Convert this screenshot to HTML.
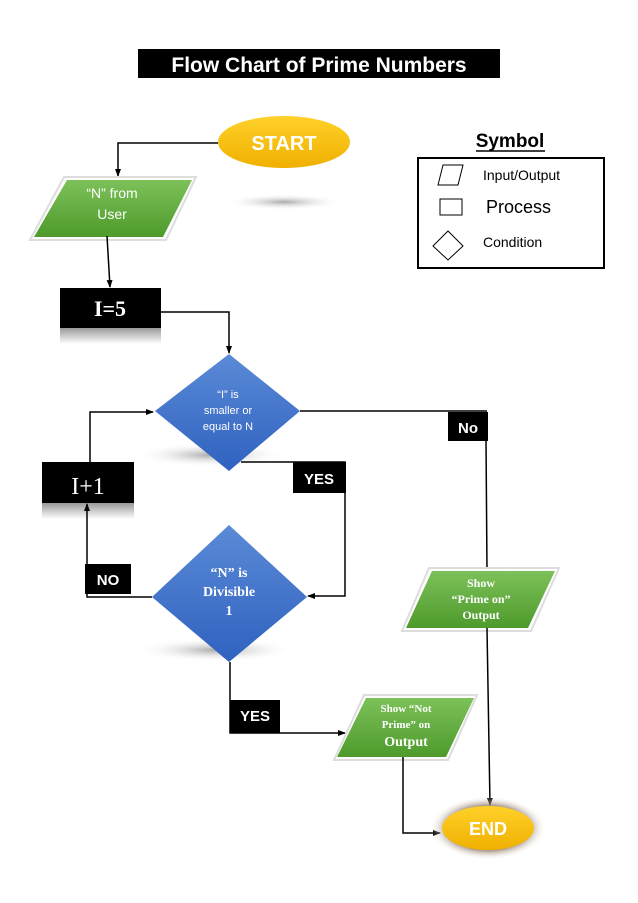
<!DOCTYPE html>
<html><head><meta charset="utf-8"><style>
html,body{margin:0;padding:0;background:#fff;}
svg{display:block;}
.s{font-family:"Liberation Sans",sans-serif;}
.r{font-family:"Liberation Serif",serif;}
</style></head><body>
<svg width="638" height="903" viewBox="0 0 638 903" xmlns="http://www.w3.org/2000/svg">
<defs>
<marker id="a" markerWidth="8" markerHeight="8" refX="7" refY="4" orient="auto" markerUnits="userSpaceOnUse"><path d="M0,1 L8,4 L0,7 Z" fill="#000"/></marker>
<linearGradient id="g" x1="0" y1="0" x2="0" y2="1"><stop offset="0" stop-color="#7cc159"/><stop offset="1" stop-color="#4e9a2c"/></linearGradient>
<linearGradient id="b" x1="0" y1="0" x2="0" y2="1"><stop offset="0" stop-color="#5b8ad6"/><stop offset="1" stop-color="#2f62c0"/></linearGradient>
<linearGradient id="y" x1="0" y1="0" x2="0" y2="1"><stop offset="0" stop-color="#ffd12a"/><stop offset="1" stop-color="#f0b000"/></linearGradient>
<linearGradient id="sh" x1="0" y1="0" x2="0" y2="1"><stop offset="0" stop-color="#999"/><stop offset="1" stop-color="#fff"/></linearGradient>
<radialGradient id="gl"><stop offset="0.6" stop-color="#6b4a2a"/><stop offset="1" stop-color="#fff" stop-opacity="0"/></radialGradient>
<radialGradient id="ds"><stop offset="0" stop-color="#aaa"/><stop offset="1" stop-color="#fff" stop-opacity="0"/></radialGradient>
</defs>

<!-- Title -->
<rect x="138" y="49" width="362" height="29" fill="#000"/>
<text x="319" y="72" text-anchor="middle" class="s" font-size="21" font-weight="bold" fill="#fff">Flow Chart of Prime Numbers</text>

<!-- START -->
<ellipse cx="284" cy="202" rx="60" ry="8" fill="url(#ds)"/>
<ellipse cx="284" cy="142" rx="66" ry="26" fill="url(#y)"/>
<text x="284" y="150" text-anchor="middle" class="s" font-size="20" font-weight="bold" fill="#fff">START</text>
<polyline points="218,143 118,143 118,176" fill="none" stroke="#000" stroke-width="1.5" marker-end="url(#a)"/>

<!-- N from User -->
<polygon points="64,177 196,177 166,240 30,240" fill="#fff" stroke="#ddd" stroke-width="2"/>
<polygon points="67,180 192,180 163,237 34,237" fill="url(#g)"/>
<text x="112" y="198" text-anchor="middle" class="s" font-size="14" fill="#fff">“N” from</text>
<text x="112" y="219" text-anchor="middle" class="s" font-size="14" fill="#fff">User</text>
<line x1="107" y1="236" x2="110" y2="287" stroke="#000" stroke-width="1.5" marker-end="url(#a)"/>

<!-- I=5 -->
<rect x="60" y="328" width="101" height="16" fill="url(#sh)"/>
<rect x="60" y="288" width="101" height="40" fill="#000"/>
<text x="110" y="316" text-anchor="middle" class="r" font-size="22" font-weight="bold" fill="#fff">I=5</text>
<polyline points="161,312 229,312 229,353" fill="none" stroke="#000" stroke-width="1.5" marker-end="url(#a)"/>

<!-- Diamond 1 -->
<ellipse cx="210" cy="455" rx="75" ry="12" fill="url(#ds)"/>
<polygon points="229,354 300,411 229,471 155,411" fill="url(#b)"/>
<text x="228" y="398" text-anchor="middle" class="s" font-size="11" fill="#fff">“I” is</text>
<text x="228" y="414" text-anchor="middle" class="s" font-size="11" fill="#fff">smaller or</text>
<text x="228" y="430" text-anchor="middle" class="s" font-size="11" fill="#fff">equal to  N</text>

<!-- No branch -->
<polyline points="300,411 487,411" fill="none" stroke="#000" stroke-width="1.5"/>
<rect x="448" y="412" width="40" height="29" fill="#000"/>
<text x="468" y="433" text-anchor="middle" class="s" font-size="15" font-weight="bold" fill="#fff">No</text>
<line x1="486" y1="441" x2="487" y2="570" stroke="#000" stroke-width="1.5"/>

<!-- YES branch -->
<polyline points="241,462 345,462 345,596 308,596" fill="none" stroke="#000" stroke-width="1.5" marker-end="url(#a)"/>
<rect x="293" y="462" width="53" height="31" fill="#000"/>
<text x="319" y="484" text-anchor="middle" class="s" font-size="15" font-weight="bold" fill="#fff">YES</text>

<!-- I+1 -->
<rect x="42" y="503" width="92" height="16" fill="url(#sh)"/>
<rect x="42" y="462" width="92" height="41" fill="#000"/>
<text x="88" y="494" text-anchor="middle" class="r" font-size="24" fill="#fff">I+1</text>
<polyline points="90,462 90,412 153,412" fill="none" stroke="#000" stroke-width="1.5" marker-end="url(#a)"/>

<!-- Diamond 2 -->
<ellipse cx="215" cy="650" rx="80" ry="12" fill="url(#ds)"/>
<polygon points="229,525 307,597 229,662 152,597" fill="url(#b)"/>
<text x="229" y="577" text-anchor="middle" class="r" font-size="14" font-weight="bold" fill="#fff">“N” is</text>
<text x="229" y="596" text-anchor="middle" class="r" font-size="14" font-weight="bold" fill="#fff">Divisible</text>
<text x="229" y="615" text-anchor="middle" class="r" font-size="14" font-weight="bold" fill="#fff">1</text>

<!-- NO branch -->
<polyline points="152,597 87,597 87,504" fill="none" stroke="#000" stroke-width="1.5" marker-end="url(#a)"/>
<rect x="85" y="564" width="46" height="30" fill="#000"/>
<text x="108" y="585" text-anchor="middle" class="s" font-size="15" font-weight="bold" fill="#fff">NO</text>

<!-- YES 2 -->
<polyline points="230,662 230,733 345,733" fill="none" stroke="#000" stroke-width="1.5" marker-end="url(#a)"/>
<rect x="230" y="700" width="50" height="33" fill="#000"/>
<text x="255" y="721" text-anchor="middle" class="s" font-size="15" font-weight="bold" fill="#fff">YES</text>

<!-- Show Not Prime -->
<polygon points="364,695 477,695 448,760 334,760" fill="#fff" stroke="#ddd" stroke-width="2"/>
<polygon points="366,698 474,698 446,757 337,757" fill="url(#g)"/>
<text x="406" y="712" text-anchor="middle" class="r" font-size="11" font-weight="bold" fill="#fff">Show “Not</text>
<text x="406" y="728" text-anchor="middle" class="r" font-size="11" font-weight="bold" fill="#fff">Prime”  on</text>
<text x="406" y="746" text-anchor="middle" class="r" font-size="14" font-weight="bold" fill="#fff">Output</text>
<polyline points="403,757 403,833 440,833" fill="none" stroke="#000" stroke-width="1.5" marker-end="url(#a)"/>

<!-- Show Prime on Output -->
<polygon points="429,568 559,568 531,631 402,631" fill="#fff" stroke="#ddd" stroke-width="2"/>
<polygon points="432,571 555,571 528,628 406,628" fill="url(#g)"/>
<text x="481" y="587" text-anchor="middle" class="r" font-size="12" font-weight="bold" fill="#fff">Show</text>
<text x="481" y="603" text-anchor="middle" class="r" font-size="12" font-weight="bold" fill="#fff">“Prime on”</text>
<text x="481" y="619" text-anchor="middle" class="r" font-size="12" font-weight="bold" fill="#fff">Output</text>
<line x1="487" y1="628" x2="490" y2="805" stroke="#000" stroke-width="1.5" marker-end="url(#a)"/>

<!-- END -->
<ellipse cx="488" cy="828" rx="58" ry="32" fill="url(#gl)"/>
<ellipse cx="488" cy="828" rx="46" ry="22" fill="url(#y)"/>
<text x="488" y="835" text-anchor="middle" class="s" font-size="18" font-weight="bold" fill="#fff">END</text>

<!-- Legend -->
<text x="510" y="147" text-anchor="middle" class="s" font-size="19" font-weight="bold" fill="#000">Symbol</text>
<line x1="476" y1="151" x2="545" y2="151" stroke="#000" stroke-width="1.5"/>
<rect x="418" y="158" width="186" height="110" fill="none" stroke="#000" stroke-width="2"/>
<polygon points="443,165 463,165 458,185 438,185" fill="none" stroke="#000" stroke-width="1"/>
<text x="483" y="180" class="s" font-size="14" fill="#000">Input/Output</text>
<rect x="440" y="199" width="22" height="16" fill="none" stroke="#000" stroke-width="1"/>
<text x="486" y="213" class="s" font-size="18" fill="#000">Process</text>
<polygon points="448,231 463,246 448,260 433,246" fill="none" stroke="#000" stroke-width="1"/>
<text x="483" y="247" class="s" font-size="14" fill="#000">Condition</text>
</svg>
</body></html>
